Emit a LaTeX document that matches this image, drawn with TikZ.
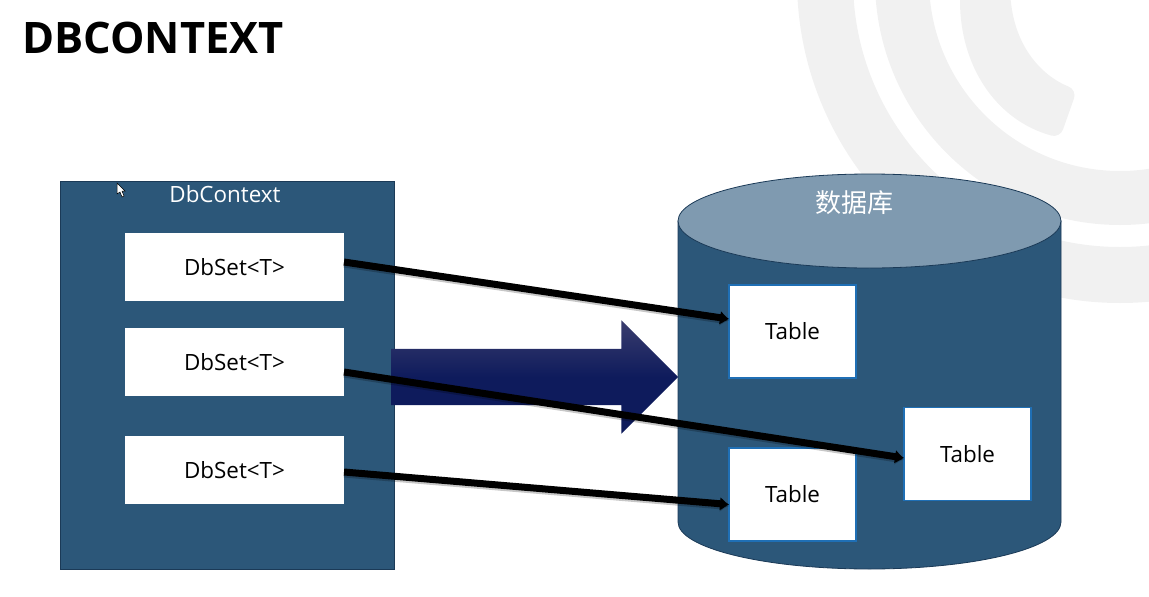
\documentclass[tikz,border=0pt]{standalone}
\usepackage{fontspec}
\setmainfont{Open Sans}
\newfontfamily\cjkfont{Noto Sans CJK SC}
\usetikzlibrary{positioning,arrows.meta}
\usetikzlibrary{shapes.geometric,shapes.arrows}
\definecolor{dbblue}{HTML}{2C5779}
\definecolor{dbtop}{HTML}{7F9AB0}
\definecolor{dbline}{HTML}{1B3A57}
\definecolor{tblblue}{HTML}{1F6FB5}
\definecolor{ringgray}{HTML}{F1F1F1}
\definecolor{navytop}{HTML}{3A3D6E}
\definecolor{navy}{HTML}{0E1B5C}
\tikzset{
  ring/.style={draw=ringgray, fill=none},
  ds/.style={rectangle, minimum width=219pt, minimum height=68pt, text centered, fill=white, inner sep=0pt, outer sep=0pt, font=\fontsize{22.4}{26}\selectfont},
  tbl/.style={rectangle, minimum width=127pt, minimum height=93pt, text centered, draw=tblblue, line width=1.3pt, fill=white, inner sep=0pt, outer sep=0pt, font=\fontsize{22.4}{26}\selectfont},
  wt/.style={text=white, inner sep=0pt},
  dbend/.style={ellipse, minimum width=383pt, minimum height=94pt, outer sep=0pt, inner sep=0pt},
  lnk/.style={-{Latex[length=9pt,width=14pt]}, line width=7pt, black,
    preaction={draw=black, draw opacity=.22, line width=8pt, transform canvas={yshift=-1.5pt}}}
}
\begin{document}
\begin{tikzpicture}[x=1pt,y=-1pt]
	\useasboundingbox (0,0) rectangle (1149,597);
	\clip (0,0) rectangle (1149,597);
	\coordinate (rc) at (1120,-20);
	\draw[ring, line width=56pt] (rc) circle[radius=295];
	\draw[ring, line width=54pt] (rc) circle[radius=218];
	\fill[ringgray, rounded corners=9pt] (960,-8) .. controls (960,65) and (995,120) .. (1060,138)
		-- (1077,90) .. controls (1040,75) and (1015,45) .. (1010,-8) -- cycle;
	\node[anchor=base west, inner sep=0pt, font=\fontsize{43.4}{50}\selectfont\bfseries] (title) at (22,53) {DBCONTEXT};
	\node[rectangle, draw=dbline, line width=.6pt, fill=dbblue, minimum width=334pt, minimum height=388pt, outer sep=0pt, inner sep=0pt] (ctx) at (227,375) {};
	\node[wt, font=\fontsize{22.4}{26}\selectfont] (ctxlabel) at (225,194) {DbContext};
	\node[ds] (ds1) at (234.5,267) {DbSet<T>};
	\node[ds, below=27pt of ds1] (ds2) {DbSet<T>};
	\node[ds, below=40pt of ds2] (ds3) {DbSet<T>};
	\node[dbend] (dbcap) at (869.5,221) {};
	\draw[draw=dbline, line width=.8pt, fill=dbblue] (dbcap.west) -- ++(0,301) arc[start angle=180, end angle=0, x radius=191.5, y radius=47] -- (dbcap.east) -- cycle;
	\node[dbend, draw=dbline, line width=.8pt, fill=dbtop] (dbtopcap) at (dbcap) {};
	\node[wt, font=\fontsize{26}{30}\selectfont\cjkfont] (dblabel) at (854,203) {数据库};
	\node[tbl] (t1) at (792.5,331.5) {Table};
	\node[tbl] (t2) at (792.5,494.5) {Table};
	\node[tbl] (t3) at (967.5,454) {Table};
	\node[single arrow, anchor=tail, single arrow tip angle=90, single arrow head extend=28.5pt, single arrow head indent=0pt, inner ysep=28pt, inner xsep=0pt, minimum height=287pt, outer sep=0pt,
		top color=navytop, bottom color=navy, middle color=navy] (bigarrow) at (391,377) {};
	\draw[lnk] ([yshift=5pt]ds1.east) -- ([yshift=12.5pt]t1.west);
	\draw[lnk] ([yshift=-10pt]ds2.east) -- ([yshift=-4pt]t3.west);
	\draw[lnk] ([yshift=-2pt]ds3.east) -- ([yshift=-10pt]t2.west);
	\draw[black, fill=white, line width=.5pt] (117,183) -- (117,194) -- (120,192) -- (122,197) -- (124,196) -- (122,191) -- (125,191) -- cycle;
\end{tikzpicture}
\end{document}
